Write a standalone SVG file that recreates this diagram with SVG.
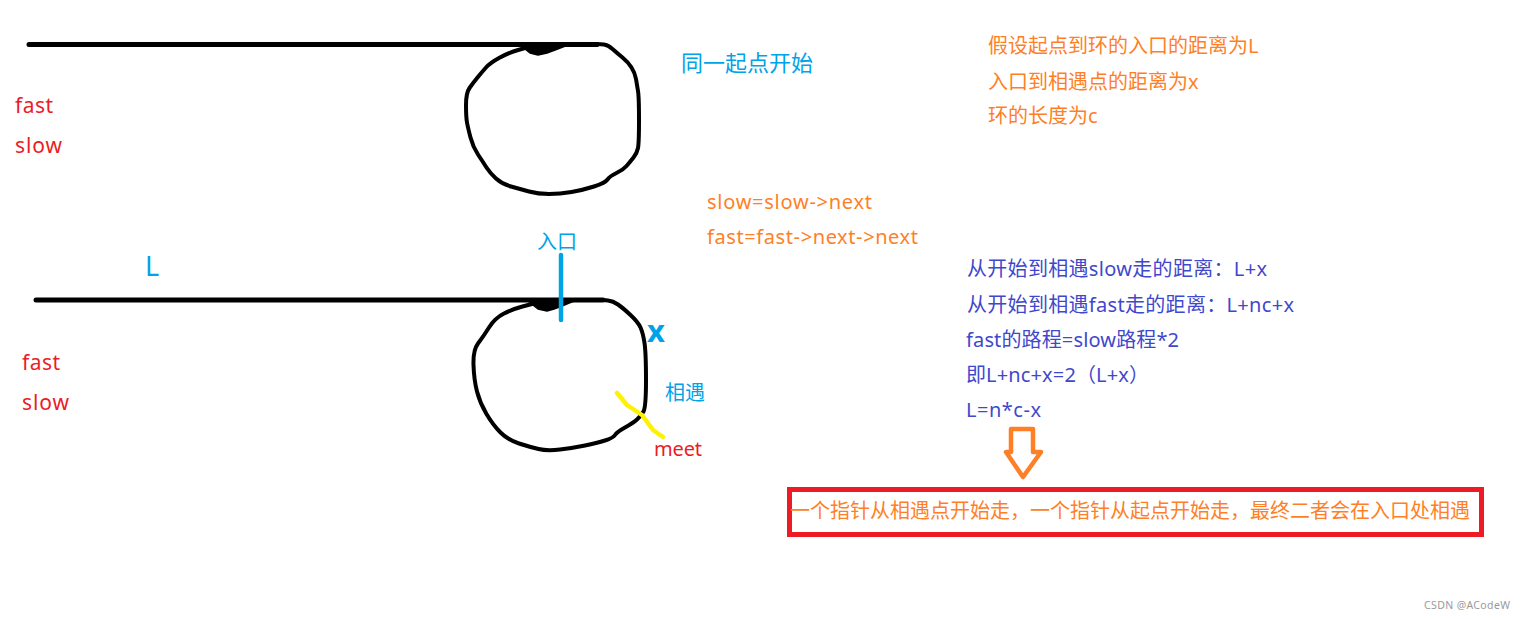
<svg xmlns="http://www.w3.org/2000/svg" width="1525" height="619" viewBox="0 0 1525 619">
<style>
text{font-family:"Noto Sans","Noto Sans CJK SC",sans-serif;font-size:20px}
.r{fill:#ed1c24}.o{fill:#ff7f27}.b{fill:#00a2e8}.i{fill:#3f48cc}
.l{fill:none;stroke:#000;stroke-width:5;stroke-linecap:round}
.k{fill:none;stroke:#000;stroke-width:4;stroke-linecap:round;stroke-linejoin:round}
</style>
<rect width="1525" height="619" fill="#fff"/>
<g id="connectors">
<path class="l" d="M29 44.500H597"/>
<path class="k" d="M597 44L604 44.500Q608 45 612.500 49Q617 53 622.500 57.500Q628 62 631.500 67.500Q635 73 636 79Q637 85 638 91Q639 97 639 120Q639 143 638 148Q637 153 633.500 157.500Q630 162 626.500 166Q623 170 616.500 173Q610 176 607.500 179.500Q605 183 594 186.500Q583 190 571.500 192Q560 194 549 194Q538 194 529 191.500Q520 189 511 186.500Q502 184 496 178.500Q490 173 486.500 167.500Q483 162 478 154.500Q473 147 470.500 137.500Q468 128 467 122.500Q466 117 466 105Q466 93 469.500 88Q473 83 477.500 77.500Q482 72 486 67.500Q490 63 499 58Q508 53 516.500 50.500L525 48"/>
<path d="M520 45H568L555 50L547 53L538 55L530 53Z" fill="#000" stroke="#000" stroke-width="1.500" stroke-linejoin="round"/>
<path class="l" d="M36 300H603"/>
<path class="k" d="M603 300L608 300.500Q613 301 618 304.500Q623 308 630.500 315Q638 322 640.500 327.500Q643 333 644.500 343Q646 353 646 380Q646 407 643.500 411.500Q641 416 637 419.500Q633 423 625 427.500Q617 432 615 435Q613 438 605 440.500Q597 443 585 445.500Q573 448 560 449.500Q547 451 538.500 449Q530 447 519 443.500Q508 440 500.500 432.500Q493 425 486.500 414Q480 403 477 391.500Q474 380 473.500 365Q473 350 478 343.500Q483 337 489 327.500Q495 318 504 313.500Q513 309 522.500 306.500L532 304"/>
<path d="M528 301H574L562 306L554 309L547 311L538 309Z" fill="#000" stroke="#000" stroke-width="1.500" stroke-linejoin="round"/>
<path d="M561 255V320" fill="none" stroke="#00a2e8" stroke-width="4.500" stroke-linecap="round"/>
<path d="M617 393L627 405L642 415L653 430L663 437" fill="none" stroke="#fff200" stroke-width="4.500" stroke-linecap="round" stroke-linejoin="round"/>
<path d="M1011 429H1033V452H1041L1023 477L1006 452H1011Z" fill="#fff" stroke="#ff7f27" stroke-width="4.500" stroke-linejoin="round"/>
</g>
<g id="top-labels">
<text class="r" x="15" y="113" textLength="38" style="font-size:21px">fast</text>
<text class="r" x="15" y="153" textLength="47" style="font-size:21px">slow</text>
<text class="b" x="681" y="71" style="font-size:22px">同一起点开始</text>
</g>
<g id="defs-text">
<text class="o" x="988" y="53">假设起点到环的入口的距离为L</text>
<text class="o" x="988" y="89">入口到相遇点的距离为x</text>
<text class="o" x="988" y="123">环的长度为c</text>
</g>
<g id="pointer-text">
<text class="o" x="707" y="209" textLength="165">slow=slow-&gt;next</text>
<text class="o" x="707" y="244" textLength="211">fast=fast-&gt;next-&gt;next</text>
</g>
<g id="bottom-labels">
<text class="b" x="145" y="276" style="font-size:27px">L</text>
<text class="b" x="537" y="249">入口</text>
<text class="b" x="647" y="342" style="font-size:31px;font-weight:700">x</text>
<text class="b" x="665" y="400">相遇</text>
<text class="r" x="654" y="456" textLength="48">meet</text>
<text class="r" x="22" y="370" textLength="38" style="font-size:21px">fast</text>
<text class="r" x="22" y="410" textLength="47" style="font-size:21px">slow</text>
</g>
<g id="derivation">
<text class="i" x="967" y="276" textLength="300">从开始到相遇slow走的距离：L+x</text>
<text class="i" x="967" y="312" textLength="327">从开始到相遇fast走的距离：L+nc+x</text>
<text class="i" x="966" y="347" textLength="213">fast的路程=slow路程*2</text>
<text class="i" x="966" y="382" textLength="183">即L+nc+x=2（L+x）</text>
<text class="i" x="966" y="417" textLength="75">L=n*c-x</text>
</g>
<g id="conclusion">
<rect x="789.500" y="489.500" width="692" height="45" fill="none" stroke="#ed1c24" stroke-width="5"/>
<text class="o" x="790" y="518">一个指针从相遇点开始走，一个指针从起点开始走，最终二者会在入口处相遇</text>
</g>
<text x="1424" y="609" textLength="86" style="font-size:10.500px;fill:#9a9a9a">CSDN @ACodeW</text>
</svg>
